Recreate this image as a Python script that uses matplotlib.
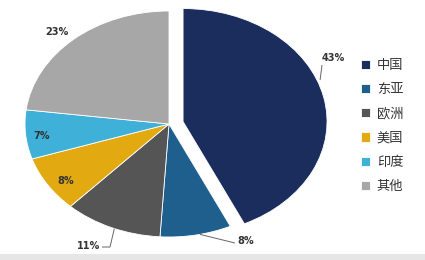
import numpy as np
import matplotlib
matplotlib.use("Agg")
import matplotlib.pyplot as plt
from matplotlib.patches import Rectangle

plt.rcParams['font.family'] = ['Noto Sans CJK SC', 'DejaVu Sans']

# ── Data ─────────────────────────────────────────────
regions = ['中国', '东亚', '欧洲', '美国', '印度', '其他']
shares = [43, 8, 11, 8, 7, 23]
colors = ['#1b2d5c', '#1f5f8e', '#555555', '#e2a911', '#3fb1d9', '#a7a7a7']
explode = [0.1, 0, 0, 0, 0, 0]

W, H = 425, 260
fig = plt.figure(figsize=(W / 100, H / 100), dpi=100)
ax = fig.add_axes([0, 0, 1, 1])

wedges, _ = ax.pie(shares, colors=colors, explode=explode, startangle=90,
                   counterclock=False, radius=1,
                   wedgeprops=dict(edgecolor='white', linewidth=0.6))

# stretch the pie into an ellipse: centre at (169, 124) px, radii 144 x 113 px
cx, cy, rx, ry = 169, 124, 144, 113
ax.set_xlim(-cx / rx, (W - cx) / rx)
ax.set_ylim(-(H - cy) / ry, cy / ry)
ax.set_aspect('auto')
ax.axis('off')


def edge(i, ang_off=0.0, r=1.0):
    w = wedges[i]
    a = np.deg2rad((w.theta1 + w.theta2) / 2 + ang_off)
    x0, y0 = w.center
    return x0 + r * np.cos(a), y0 + r * np.sin(a)


def px(x, y):
    # pixel (from top-left) -> data
    return (x - cx) / rx, (cy - y) / ry


lab_kw = dict(fontsize=7, color='#333333', fontweight='bold', family=['DejaVu Sans'])
line_kw = dict(color='#666666', lw=0.7, solid_capstyle='butt')
pct = [f'{v}%' for v in shares]


def leader(i, ang_off, r, *pts):
    xs, ys = zip(edge(i, ang_off, r), *[px(*p) for p in pts])
    ax.plot(xs, ys, **line_kw)


# 43% with leader
leader(0, 8.5, 1.02, (322, 65))
ax.text(*px(322, 58), pct[0], ha='left', va='center', **lab_kw)
# 8% east asia with leader
leader(1, 1.6, 1.0, (235, 243))
ax.text(*px(237, 241), pct[1], ha='left', va='center', **lab_kw)
# 11% europe with leader
leader(2, 1.1, 1.0, (110, 247), (102, 247))
ax.text(*px(100, 246), pct[2], ha='right', va='center', **lab_kw)
# labels without leaders
ax.text(*px(66, 181), pct[3], ha='center', va='center', **lab_kw)
ax.text(*px(42, 136), pct[4], ha='center', va='center', **lab_kw)
ax.text(*px(57, 32), pct[5], ha='center', va='center', **lab_kw)

ax.legend(wedges, regions, loc='upper left', bbox_to_anchor=(349 / W, 1 - 47 / H),
          bbox_transform=fig.transFigure, frameon=False, fontsize=9.5,
          handlelength=0.7, handleheight=0.7, handletextpad=0.5,
          labelspacing=0.85, labelcolor='#333333')

# light strip at the bottom
fig.patches.append(Rectangle((0, 0), 1, 6 / H, transform=fig.transFigure,
                             facecolor='#e6e6e6', edgecolor='none'))

fig.savefig('out.png', dpi=100)
